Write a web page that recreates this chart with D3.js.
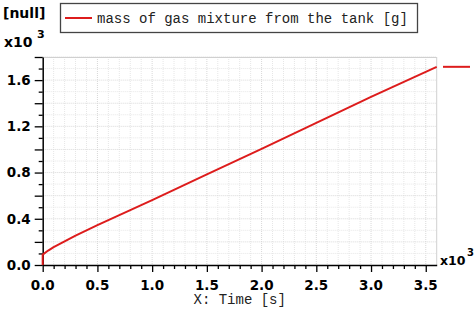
<!DOCTYPE html>
<html><head><meta charset="utf-8">
<script src="https://cdn.jsdelivr.net/npm/d3@7"></script>
<style>body{margin:0;background:#fff}svg{display:block}</style>
</head><body>
<svg id="c" width="474" height="311"></svg>
<script>
const timeKs = [0, 0, 0.05, 0.1, 0.2, 0.3, 0.5, 0.8, 1.0, 1.5, 2.0, 2.5, 3.0, 3.6];
const massKg = [0, 0.09, 0.125, 0.155, 0.205, 0.255, 0.345, 0.475, 0.562, 0.785, 1.005, 1.23, 1.455, 1.715];
const xTickLabels = [0.0, 0.5, 1.0, 1.5, 2.0, 2.5, 3.0, 3.5];
const yTickLabels = [0.0, 0.4, 0.8, 1.2, 1.6];
const seriesName = "mass of gas mixture from the tank [g]";

const svg = d3.select("#c");
const L = 42.7, R = 436.7, T = 57, B = 265;
const x = d3.scaleLinear().domain([0, 3.6]).range([L, R]);
const y = d3.scaleLinear().domain([0, 1.8]).range([B, T]);

const minorX = d3.range(0, 36).map(i => i / 10);
const minorY = d3.range(0, 19).map(i => i / 10);

// grid
const g = svg.append("g");
g.selectAll("line.gx").data(minorX.slice(1)).join("line")
  .attr("x1", d => x(d)).attr("x2", d => x(d)).attr("y1", T).attr("y2", B)
  .attr("stroke", d => Math.abs(d * 2 - Math.round(d * 2)) < 1e-6 ? "#d8d8d8" : "#e6e6e6")
  .attr("stroke-dasharray", "1,1").attr("stroke-width", 1);
g.selectAll("line.gy").data(minorY.slice(1)).join("line")
  .attr("y1", d => y(d)).attr("y2", d => y(d)).attr("x1", L).attr("x2", R)
  .attr("stroke", d => Math.abs(d * 5 - Math.round(d * 5)) < 1e-6 ? "#d8d8d8" : "#e6e6e6")
  .attr("stroke-dasharray", "1,1").attr("stroke-width", 1);
// frame top/right
svg.append("line").attr("x1", L).attr("x2", R).attr("y1", T + 0.5).attr("y2", T + 0.5).attr("stroke", "#d0d0d0");
svg.append("line").attr("x1", R).attr("x2", R).attr("y1", T).attr("y2", B).attr("stroke", "#d0d0d0");

// x axis
const xa = svg.append("g").attr("transform", `translate(0,${B})`);
xa.call(d3.axisBottom(x).tickValues(minorX).tickSizeOuter(0).tickFormat(""));
xa.selectAll(".tick line").attr("y2", d => Math.abs(d * 2 - Math.round(d * 2)) < 1e-6 ? 7 : 4).attr("stroke", "#000").attr("stroke-width", 1.3);
xa.select(".domain").attr("stroke", "#000").attr("stroke-width", 1.5);
xa.selectAll("text.lab").data(xTickLabels).join("text").attr("class", "lab")
  .attr("x", d => x(d)).attr("y", 25).attr("text-anchor", "middle").attr("fill", "#000")
  .attr("font-family", "DejaVu Sans, sans-serif").attr("font-weight", "bold").attr("font-size", 13.5)
  .text(d => d.toFixed(1));

// y axis
const ya = svg.append("g").attr("transform", `translate(${L},0)`);
ya.call(d3.axisLeft(y).tickValues(minorY).tickSizeOuter(0).tickFormat(""));
ya.selectAll(".tick line").attr("x2", d => Math.abs(d * 5 - Math.round(d * 5)) < 1e-6 ? -8 : -4).attr("stroke", "#000").attr("stroke-width", 1.3);
ya.select(".domain").attr("stroke", "#000").attr("stroke-width", 1.5);
ya.selectAll("text.lab").data(yTickLabels).join("text").attr("class", "lab")
  .attr("x", -12).attr("y", d => y(d)).attr("dy", "0.36em").attr("text-anchor", "end").attr("fill", "#000")
  .attr("font-family", "DejaVu Sans, sans-serif").attr("font-weight", "bold").attr("font-size", 13.5)
  .text(d => d.toFixed(1));

// line
const line = d3.line().x((d, i) => x(timeKs[i])).y(d => y(d));
svg.append("path").datum(massKg).attr("d", line).attr("fill", "none")
  .attr("stroke", "#dd1c1c").attr("stroke-width", 2).attr("stroke-linejoin", "round");
// end marker
svg.append("line").attr("x1", 443).attr("x2", 470)
  .attr("y1", y(massKg[massKg.length - 1])).attr("y2", y(massKg[massKg.length - 1]))
  .attr("stroke", "#dd1c1c").attr("stroke-width", 2);

// legend
svg.append("rect").attr("x", 60.5).attr("y", 3.5).attr("width", 357).attr("height", 29)
  .attr("fill", "#fff").attr("stroke", "#444").attr("stroke-width", 1.3);
svg.append("line").attr("x1", 65).attr("x2", 92).attr("y1", 18).attr("y2", 18).attr("stroke", "#dd1c1c").attr("stroke-width", 2);
svg.append("text").attr("x", 97).attr("y", 22.5).attr("font-family", "Liberation Mono, monospace").attr("font-size", 14)
  .attr("fill", "#222").text(seriesName);

// axis captions
const bold = sel => sel.attr("font-family", "DejaVu Sans, sans-serif").attr("font-weight", "bold").attr("fill", "#000");
svg.append("text").attr("x", 3).attr("y", 18).attr("font-size", 14).call(bold).text("[null]");
svg.append("text").attr("x", 4).attr("y", 47).attr("font-size", 14).call(bold).text("x10");
svg.append("text").attr("x", 37).attr("y", 38).attr("font-size", 11).call(bold).text("3");
svg.append("text").attr("x", 440).attr("y", 265).attr("font-size", 12.5).call(bold).text("x10");
svg.append("text").attr("x", 467).attr("y", 256).attr("font-size", 10).call(bold).text("3");
svg.append("text").attr("x", (L + R) / 2).attr("y", 304).attr("text-anchor", "middle")
  .attr("font-family", "Liberation Mono, monospace").attr("font-size", 14).attr("fill", "#222").text("X: Time [s]");
</script>
</body></html>
